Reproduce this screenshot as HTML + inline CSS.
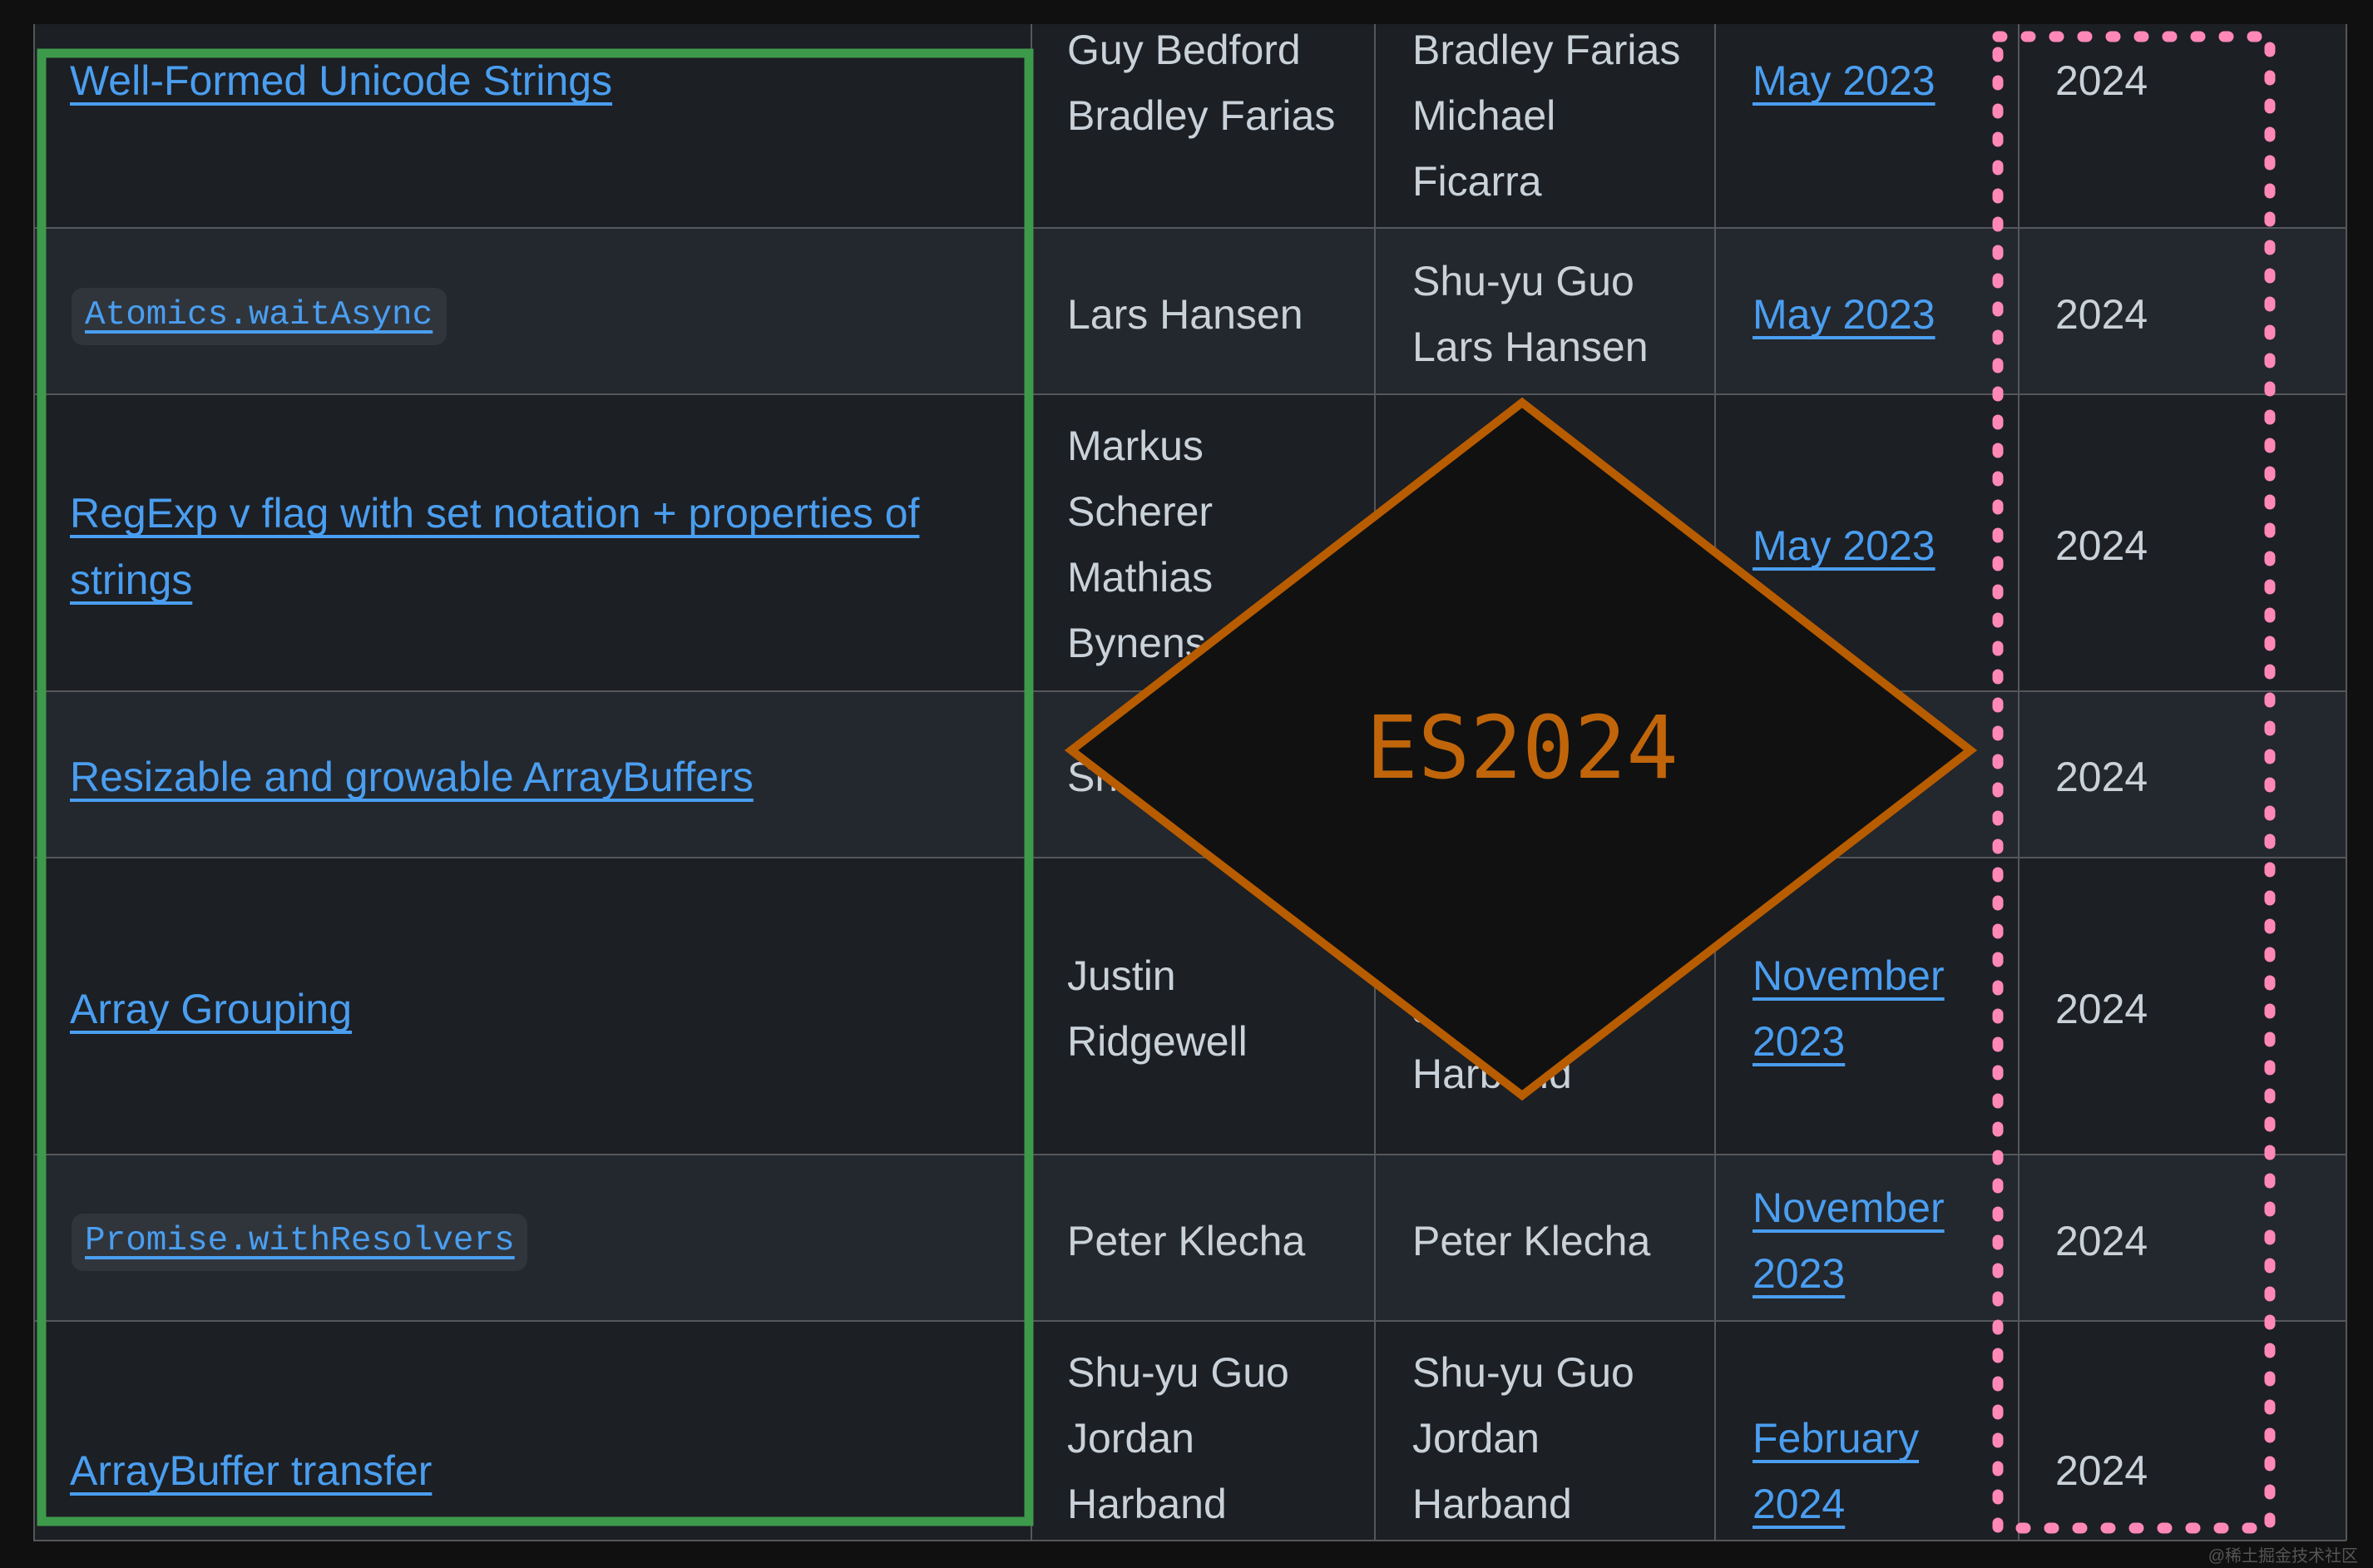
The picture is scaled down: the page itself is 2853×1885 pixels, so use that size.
<!DOCTYPE html>
<html><head><meta charset="utf-8">
<style>
html,body{margin:0;padding:0;}
body{width:2853px;height:1885px;background:#101010;position:relative;overflow:hidden;font-family:"Liberation Sans","Noto Sans CJK SC",sans-serif;}
.row{position:absolute;left:40px;width:2781px;}
.t{position:absolute;font-size:50px;line-height:79px;color:#c9d1d9;white-space:nowrap;}
.l{color:#4a9ef0;text-decoration:underline;text-decoration-thickness:4px;text-underline-offset:9px;text-decoration-skip-ink:none;}
.pill{position:absolute;background:#30353c;border-radius:14px;}
.code{position:absolute;font-family:"Liberation Mono",monospace;font-size:41px;line-height:60px;color:#4a9ef0;text-decoration:underline;text-decoration-thickness:4px;text-underline-offset:8px;text-decoration-skip-ink:none;white-space:nowrap;}
.vl{position:absolute;top:29px;height:1823px;width:2px;background:#55575a;}
.hl{position:absolute;left:40px;width:2781px;height:2px;background:#55575a;}
</style></head><body>
<div class="row" style="top:29px;height:244px;background:#1c1f24"></div>
<div class="row" style="top:273px;height:200px;background:#23272e"></div>
<div class="row" style="top:473px;height:357px;background:#1c1f24"></div>
<div class="row" style="top:830px;height:200px;background:#23272e"></div>
<div class="row" style="top:1030px;height:357px;background:#1c1f24"></div>
<div class="row" style="top:1387px;height:200px;background:#23272e"></div>
<div class="row" style="top:1587px;height:265px;background:#1c1f24"></div>

<div class="vl" style="left:40px"></div>
<div class="vl" style="left:1239px"></div>
<div class="vl" style="left:1652px"></div>
<div class="vl" style="left:2061px"></div>
<div class="vl" style="left:2426px"></div>
<div class="vl" style="left:2820px"></div>
<div class="hl" style="top:273px"></div>
<div class="hl" style="top:473px"></div>
<div class="hl" style="top:830px"></div>
<div class="hl" style="top:1030px"></div>
<div class="hl" style="top:1387px"></div>
<div class="hl" style="top:1587px"></div>
<div class="hl" style="top:1851px"></div>

<!-- col1 -->
<div class="t l" style="left:84px;top:58px">Well-Formed Unicode Strings</div>
<div class="pill" style="left:86px;top:346px;width:451px;height:69px"></div>
<div class="code" style="left:102px;top:349px">Atomics.waitAsync</div>
<div class="t" style="left:84px;top:577px;line-height:80px"><span class="l">RegExp v flag with set notation + properties of</span><br><span class="l">strings</span></div>
<div class="t l" style="left:84px;top:895px">Resizable and growable ArrayBuffers</div>
<div class="t l" style="left:84px;top:1174px">Array Grouping</div>
<div class="pill" style="left:86px;top:1459px;width:548px;height:69px"></div>
<div class="code" style="left:102px;top:1462px">Promise.withResolvers</div>
<div class="t l" style="left:84px;top:1729px">ArrayBuffer transfer</div>

<!-- col2 -->
<div class="t" style="left:1283px;top:21px">Guy Bedford<br>Bradley Farias</div>
<div class="t" style="left:1283px;top:339px">Lars Hansen</div>
<div class="t" style="left:1283px;top:497px">Markus<br>Scherer<br>Mathias<br>Bynens</div>
<div class="t" style="left:1283px;top:895px">Shu-yu Guo</div>
<div class="t" style="left:1283px;top:1134px">Justin<br>Ridgewell</div>
<div class="t" style="left:1283px;top:1453px">Peter Klecha</div>
<div class="t" style="left:1283px;top:1611px">Shu-yu Guo<br>Jordan<br>Harband</div>

<!-- col3 -->
<div class="t" style="left:1698px;top:21px">Bradley Farias<br>Michael<br>Ficarra</div>
<div class="t" style="left:1698px;top:299px">Shu-yu Guo<br>Lars Hansen</div>
<div class="t" style="left:1698px;top:1094px">Justin<br>Jordan<br>Harband</div>
<div class="t" style="left:1698px;top:1453px">Peter Klecha</div>
<div class="t" style="left:1698px;top:1611px">Shu-yu Guo<br>Jordan<br>Harband</div>

<!-- col4 -->
<div class="t l" style="left:2107px;top:58px">May 2023</div>
<div class="t l" style="left:2107px;top:339px">May 2023</div>
<div class="t l" style="left:2107px;top:617px">May 2023</div>
<div class="t" style="left:2107px;top:1134px"><span class="l">November</span><br><span class="l">2023</span></div>
<div class="t" style="left:2107px;top:1413px"><span class="l">November</span><br><span class="l">2023</span></div>
<div class="t" style="left:2107px;top:1690px"><span class="l">February</span><br><span class="l">2024</span></div>

<!-- col5 -->
<div class="t" style="left:2471px;top:58px">2024</div>
<div class="t" style="left:2471px;top:339px">2024</div>
<div class="t" style="left:2471px;top:617px">2024</div>
<div class="t" style="left:2471px;top:895px">2024</div>
<div class="t" style="left:2471px;top:1174px">2024</div>
<div class="t" style="left:2471px;top:1453px">2024</div>
<div class="t" style="left:2471px;top:1729px">2024</div>

<svg width="2853" height="1885" style="position:absolute;left:0;top:0">
<rect x="50" y="64" width="1187" height="1765" fill="none" stroke="#3d9a4b" stroke-width="11"/>
<rect x="2402" y="44" width="327" height="1793" fill="none" stroke="#ff88b6" stroke-width="13" stroke-linecap="round" stroke-dasharray="5 29"/>
<polygon points="1830,484 2369,902 1830,1317 1288,902" fill="#111111" stroke="#b85c00" stroke-width="10" stroke-linejoin="miter"/>
<text x="1830" y="935" text-anchor="middle" font-family="DejaVu Sans Mono, Liberation Mono, monospace" font-size="104" fill="#c0650a">ES2024</text>
<text x="2835" y="1877" text-anchor="end" font-family="Liberation Sans, Noto Sans CJK SC, sans-serif" font-size="20" fill="#555">@稀土掘金技术社区</text>
</svg>
</body></html>
